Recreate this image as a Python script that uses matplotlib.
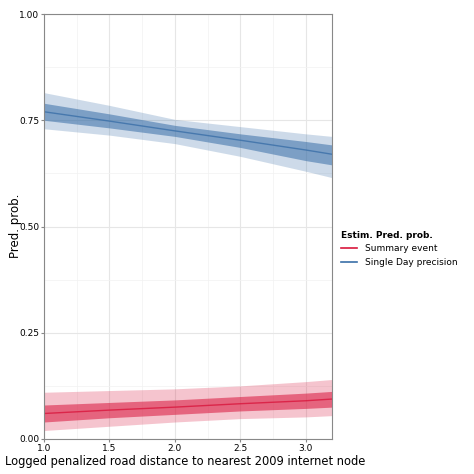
import matplotlib
matplotlib.use("Agg")
import matplotlib.pyplot as plt
from matplotlib.lines import Line2D

x = [1.0, 1.5, 2.0, 2.5, 3.0, 3.2]
# Single Day precision: center and quantile bands
blue_mid = [0.770, 0.748, 0.725, 0.703, 0.680, 0.670]
blue_in_lo = [0.750, 0.732, 0.712, 0.686, 0.655, 0.645]
blue_in_hi = [0.790, 0.765, 0.738, 0.718, 0.700, 0.692]
blue_out_lo = [0.730, 0.715, 0.695, 0.665, 0.630, 0.615]
blue_out_hi = [0.815, 0.785, 0.752, 0.735, 0.718, 0.712]
# Summary event
red_mid = [0.060, 0.068, 0.075, 0.083, 0.090, 0.094]
red_in_lo = [0.040, 0.050, 0.058, 0.066, 0.072, 0.075]
red_in_hi = [0.080, 0.086, 0.092, 0.100, 0.108, 0.112]
red_out_lo = [0.020, 0.030, 0.040, 0.048, 0.052, 0.055]
red_out_hi = [0.110, 0.114, 0.118, 0.125, 0.135, 0.140]

blue = "#3a6fa8"
red = "#d9163c"

fig = plt.figure(figsize=(4.74, 4.74), dpi=100)
ax = fig.add_axes([44/474, 35/474, 288/474, 425/474])
for mid, ilo, ihi, olo, ohi, c in [(blue_mid, blue_in_lo, blue_in_hi, blue_out_lo, blue_out_hi, blue),
                                    (red_mid, red_in_lo, red_in_hi, red_out_lo, red_out_hi, red)]:
    ax.fill_between(x, olo, ohi, color=c, alpha=0.25, lw=0)
    ax.fill_between(x, ilo, ihi, color=c, alpha=0.55, lw=0)
    ax.plot(x, mid, color=c, lw=1, alpha=0.8)

ax.set_xlim(1.0, 3.2)
ax.set_ylim(0, 1)
ax.set_xticks([1.0, 1.5, 2.0, 2.5, 3.0])
ax.set_xticklabels(["1.0", "1.5", "2.0", "2.5", "3.0"])
ax.set_yticks([0, 0.25, 0.5, 0.75, 1.0])
ax.set_yticklabels(["0.00", "0.25", "0.50", "0.75", "1.00"])
ax.set_xticks([1.25, 1.75, 2.25, 2.75], minor=True)
ax.set_yticks([0.125, 0.375, 0.625, 0.875], minor=True)
ax.grid(True, which="major", color="#e6e6e6", lw=0.8)
ax.grid(True, which="minor", color="#f2f2f2", lw=0.5)
ax.set_axisbelow(True)
for s in ax.spines.values():
    s.set_color("#888888")
    s.set_linewidth(0.8)
ax.tick_params(which="both", length=2, pad=1.5, labelsize=6.5, color="#888888")
ax.tick_params(which="minor", length=0)
fig.text(5/474, 1 - 462/474, "Logged penalized road distance to nearest 2009 internet node",
         fontsize=8.3, ha="left", va="center")
fig.text(15/474, 1 - 226/474, "Pred. prob.", fontsize=8.5, rotation=90, ha="center", va="center")

handles = [Line2D([], [], color=red, lw=1.2), Line2D([], [], color=blue, lw=1.2)]
fig.legend(handles, ["Summary event", "Single Day precision"], title="Estim. Pred. prob.",
           loc="center left", bbox_to_anchor=(333/474, 0.475), fontsize=6.5,
           title_fontproperties={"size": 6.5, "weight": "bold"}, frameon=False,
           handlelength=1.8, alignment="left")
fig.savefig("out.png", dpi=100)
